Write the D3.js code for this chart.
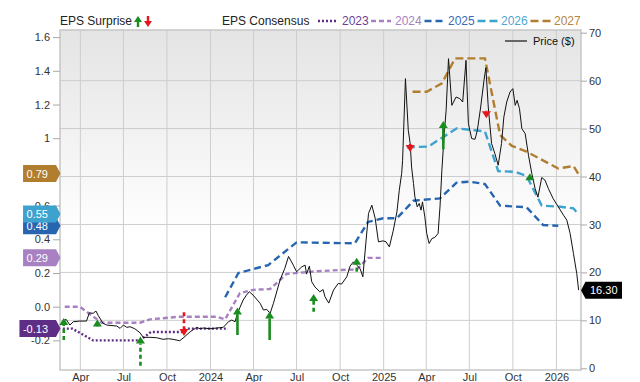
<!DOCTYPE html>
<html><head><meta charset="utf-8">
<script src="https://cdn.jsdelivr.net/npm/d3@7"></script>
<style>body{margin:0;background:#fff}svg{display:block;font-family:"Liberation Sans",Arial,Helvetica,sans-serif}</style>
</head><body><svg id="c" width="640" height="382"></svg>
<script>
// ---------------- DATA ----------------
const priceDates = ["2023-02-21","2023-03-02","2023-03-10","2023-03-17","2023-03-31","2023-04-14","2023-04-20","2023-04-28","2023-05-04","2023-05-09",
"2023-05-19","2023-05-27","2023-06-17","2023-06-24","2023-07-01","2023-07-08","2023-07-15","2023-07-25","2023-08-05","2023-08-12",
"2023-08-26","2023-09-09","2023-09-23","2023-10-04","2023-10-14","2023-10-28","2023-11-06","2023-11-19","2023-12-03","2023-12-10",
"2023-12-17","2023-12-31","2024-01-14","2024-01-28","2024-02-08","2024-02-15","2024-02-22","2024-02-27","2024-03-03","2024-03-10",
"2024-03-17","2024-03-23","2024-03-31","2024-04-15","2024-04-22","2024-04-29","2024-05-06","2024-05-13","2024-05-27","2024-06-06",
"2024-06-14","2024-06-24","2024-07-01","2024-07-12","2024-07-19","2024-07-22","2024-07-28","2024-08-02","2024-08-09","2024-08-19",
"2024-08-26","2024-08-30","2024-09-07","2024-09-17","2024-09-27","2024-10-04","2024-10-15","2024-10-22","2024-10-29","2024-11-05",
"2024-11-12","2024-11-18","2024-11-23","2024-11-30","2024-12-07","2024-12-14","2024-12-21","2024-12-31","2025-01-06","2025-01-13",
"2025-01-21","2025-01-29","2025-02-03","2025-02-08","2025-02-10","2025-02-16","2025-02-22","2025-02-26","2025-03-01","2025-03-05",
"2025-03-08","2025-03-13","2025-03-17","2025-03-21","2025-03-24","2025-03-29","2025-04-02","2025-04-07","2025-04-13","2025-04-19",
"2025-04-26","2025-04-30","2025-05-04","2025-05-09","2025-05-13","2025-05-18","2025-05-25","2025-06-03","2025-06-11","2025-06-17",
"2025-06-24","2025-06-29","2025-07-06","2025-07-13","2025-07-18","2025-07-25","2025-08-01","2025-08-05","2025-08-10","2025-08-17",
"2025-08-24","2025-08-31","2025-09-07","2025-09-12","2025-09-18","2025-09-25","2025-10-01","2025-10-06","2025-10-10","2025-10-15",
"2025-10-20","2025-10-27","2025-11-03","2025-11-10","2025-11-17","2025-11-23","2025-12-01","2025-12-08","2025-12-15","2025-12-25",
"2026-01-05","2026-01-16","2026-01-23","2026-01-30","2026-02-06","2026-02-13","2026-02-17"];
const priceValues = [9.71,10.21,9.02,9.71,9.85,9.85,11.58,11.46,11.94,10.96,
9.38,9.02,8.81,8.33,9.02,8.54,8.67,8.25,7.42,6.46,
6.46,6.38,6.04,6.17,6.04,5.75,6.46,7.63,8.54,8.25,
8.40,8.25,8.40,8.54,9.71,10.06,9.71,11.46,12.63,14.23,
15.27,15.96,15.27,13.54,12.15,12.29,11.46,13.54,18.40,20.83,
23.33,21.52,20.13,21.17,21.52,19.65,21.31,18.04,16.94,15.96,
16.42,14.92,13.60,16.31,17.71,17.56,19.08,21.31,22.21,21.52,
20.83,19.08,24.65,32.29,34.02,31.31,26.38,26.58,26.38,25.33,
28.60,32.63,37.15,40.63,43.40,60.42,49.65,46.88,42.00,38.54,
35.75,33.67,34.38,32.98,34.71,31.58,28.13,26.04,27.08,27.29,
28.13,33.67,41.31,48.96,53.81,64.58,54.85,56.58,56.25,55.54,
64.23,51.04,47.92,47.77,49.65,54.50,60.06,62.71,54.50,46.88,
44.79,42.35,46.88,52.42,55.54,57.63,58.33,54.85,55.90,54.17,
50.00,48.96,44.44,40.63,37.50,35.69,39.79,39.23,37.50,35.42,
33.67,31.94,30.90,28.13,23.96,19.79,16.30];

const cons2023Dates = ["2023-02-23","2023-03-15","2023-04-28","2023-08-05","2023-08-28","2023-11-01","2023-11-12","2024-02-07"];
const cons2023Values = [-0.13,-0.13,-0.20,-0.20,-0.15,-0.15,-0.13,-0.13];
const cons2024Dates = ["2023-02-27","2023-03-31","2023-05-16","2023-08-05","2023-08-26","2023-10-25","2024-01-15","2024-02-01","2024-03-03","2024-03-31","2024-05-06","2024-06-10","2024-08-12","2024-10-15","2024-11-05","2024-11-29","2024-12-31"];
const cons2024Values = [0.0,0.0,-0.095,-0.095,-0.075,-0.06,-0.06,-0.075,0.08,0.10,0.105,0.195,0.21,0.22,0.22,0.29,0.29];
const cons2025Dates = ["2024-02-01","2024-02-29","2024-05-02","2024-07-01","2024-11-01","2024-11-29","2024-12-31","2025-01-29","2025-03-05","2025-04-30","2025-06-04","2025-07-02","2025-08-03","2025-09-04","2025-10-30","2025-12-04","2026-01-05"];
const cons2025Values = [0.056,0.20,0.247,0.382,0.376,0.503,0.525,0.525,0.629,0.643,0.736,0.742,0.728,0.60,0.59,0.485,0.48];
const cons2026Dates = ["2025-02-19","2025-04-05","2025-06-04","2025-07-02","2025-08-03","2025-08-31","2025-10-06","2025-10-30","2025-12-01","2026-01-09","2026-02-06","2026-02-16"];
const cons2026Values = [0.946,0.95,1.058,1.05,1.04,0.805,0.80,0.776,0.60,0.593,0.584,0.55];
const cons2027Dates = ["2025-03-03","2025-04-02","2025-05-04","2025-06-01","2025-08-03","2025-09-04","2025-09-29","2025-10-30","2026-01-05","2026-02-06","2026-02-16"];
const cons2027Values = [1.276,1.276,1.326,1.474,1.474,1.019,0.954,0.92,0.82,0.835,0.79];

const surpriseDates = ["2023-02-25","2023-05-07","2023-08-06","2023-11-06","2024-02-27","2024-05-05","2024-08-06","2024-11-05","2025-02-26","2025-05-07","2025-08-06","2025-11-06"];
const surpriseFrom = [-0.198,-0.12,-0.35,-0.033,-0.168,-0.198,-0.03,0.208,0.966,0.934,1.163,0.768];
const surpriseTo   = [-0.067,-0.076,-0.177,-0.174,-0.005,-0.028,0.075,0.291,0.918,1.102,1.118,0.792];
const surpriseKind = ["dashed","dashed","dashed","dashed","solid","solid","dashed","dashed","dashed","solid","dashed","solid"];

const seriesNames = ["2023","2024","2025","2026","2027"];
const priceTicks = [0,10,20,30,40,50,60,70];
const epsTicks = [-0.2,0.0,0.2,0.4,0.6,0.8,1.0,1.2,1.4,1.6];
const epsTickLabels = ["-0.2","0.0","0.2","0.4","0.6","","1","1.2","1.4","1.6"];
const monthTickDates = ["2023-04-01","2023-07-01","2023-10-01","2024-01-01","2024-04-01","2024-07-01","2024-10-01","2025-01-01","2025-04-01","2025-07-01","2025-10-01","2026-01-01"];
const monthTickLabels = ["Apr","Jul","Oct","2024","Apr","Jul","Oct","2025","Apr","Jul","Oct","2026"];

// ---------------- CHART ----------------
const parse = d3.timeParse("%Y-%m-%d");
const L=60, R=581, T=30, B=370;
const svg = d3.select("#c");
const x = d3.scaleTime().domain([parse("2023-02-17"), parse("2026-02-22")]).range([L, R]);
const yP = d3.scaleLinear().domain([0,70]).range([368.3, 32.7]);
const yE = d3.scaleLinear().domain([-0.2,1.6]).range([340.4, 37.1]);

const colors = {"2023":"#5e2e86","2024":"#a881c2","2025":"#2765b0","2026":"#3ea2cf","2027":"#b17e30"};
const textColors = {"2023":"#6b3f93","2024":"#a782c0","2025":"#3b6db4","2026":"#4fa6d2","2027":"#b58640"};
const dashes = {"2023":"2,2","2024":"5,3","2025":"7,4","2026":"8,4","2027":"8,4"};

const defs = svg.append("defs");
const grad = defs.append("linearGradient").attr("id","bg").attr("x1",0).attr("y1",0).attr("x2",0).attr("y2",1);
grad.append("stop").attr("offset","0%").attr("stop-color","#e4e4e4");
grad.append("stop").attr("offset","60%").attr("stop-color","#ffffff");
grad.append("stop").attr("offset","100%").attr("stop-color","#ffffff");
defs.append("clipPath").attr("id","clip").append("rect").attr("x",L).attr("y",T).attr("width",R-L).attr("height",B-T);

svg.append("rect").attr("x",L).attr("y",T).attr("width",R-L).attr("height",B-T).attr("fill","url(#bg)");

// grid
const mDates = monthTickDates.map(parse);
svg.append("g").selectAll("line").data(mDates).join("line")
  .attr("x1",d=>x(d)).attr("x2",d=>x(d)).attr("y1",T).attr("y2",B)
  .attr("stroke","#cdcdcd").attr("stroke-width",1);
svg.append("g").selectAll("line").data(priceTicks.filter(d=>d>0&&d<70)).join("line")
  .attr("x1",L).attr("x2",R).attr("y1",d=>yP(d)).attr("y2",d=>yP(d))
  .attr("stroke","#cdcdcd").attr("stroke-width",1);

svg.append("rect").attr("x",L).attr("y",T).attr("width",R-L).attr("height",B-T)
  .attr("fill","none").attr("stroke","#c6c6c6").attr("stroke-width",1.5);

// axes
const axR = svg.append("g").attr("transform",`translate(${R},0)`)
  .call(d3.axisRight(yP).tickValues(priceTicks).tickSize(6).tickPadding(2));
const axL = svg.append("g").attr("transform",`translate(${L},0)`)
  .call(d3.axisLeft(yE).tickValues(epsTicks).tickFormat((d,i)=>epsTickLabels[i]).tickSize(7).tickPadding(3));
const axB = svg.append("g").attr("transform",`translate(0,${B})`)
  .call(d3.axisBottom(x).tickValues(mDates).tickFormat((d,i)=>monthTickLabels[i]).tickSize(0).tickPadding(3));
[axR,axL,axB].forEach(a=>{
  a.select(".domain").remove();
  a.selectAll(".tick line").attr("stroke","#a8a8a8");
  a.selectAll("text").attr("fill","#333").attr("font-size",11).attr("font-family",'"Liberation Sans",Arial,sans-serif');
});

// consensus lines
const consData = {
  "2023": cons2023Dates.map((d,i)=>({date:parse(d), v:cons2023Values[i]})),
  "2024": cons2024Dates.map((d,i)=>({date:parse(d), v:cons2024Values[i]})),
  "2025": cons2025Dates.map((d,i)=>({date:parse(d), v:cons2025Values[i]})),
  "2026": cons2026Dates.map((d,i)=>({date:parse(d), v:cons2026Values[i]})),
  "2027": cons2027Dates.map((d,i)=>({date:parse(d), v:cons2027Values[i]}))
};
const eLine = d3.line().x(d=>x(d.date)).y(d=>yE(d.v));
const plot = svg.append("g").attr("clip-path","url(#clip)");
seriesNames.forEach(s=>{
  plot.append("path").datum(consData[s]).attr("d",eLine).attr("fill","none")
    .attr("stroke",colors[s]).attr("stroke-width",2.4).attr("stroke-dasharray",dashes[s]);
});

// price line
const pData = priceDates.map((d,i)=>({date:parse(d), v:priceValues[i]}));
plot.append("path").datum(pData)
  .attr("d", d3.line().x(d=>x(d.date)).y(d=>yP(d.v)))
  .attr("fill","none").attr("stroke","#111").attr("stroke-width",1);

// surprise arrows
const green="#1b8c1f", red="#e6171c";
surpriseDates.forEach((d,i)=>{
  const cx = x(parse(d)), y1 = yE(surpriseFrom[i]), y2 = yE(surpriseTo[i]);
  const up = surpriseTo[i] > surpriseFrom[i];
  const col = up ? green : red;
  const hh = 7, hw = 4.5;
  const base = up ? y2 + hh : y2 - hh;
  const g = svg.append("g");
  if ((up && y1 > base) || (!up && y1 < base)) {
    g.append("line").attr("x1",cx).attr("x2",cx).attr("y1",y1).attr("y2",base)
      .attr("stroke",col).attr("stroke-width",2.6)
      .attr("stroke-dasharray", surpriseKind[i]==="dashed" ? "4,3" : null);
  }
  g.append("path").attr("d",`M${cx-hw},${base}L${cx+hw},${base}L${cx},${y2}Z`).attr("fill",col);
});

// left badges
const lastVals = seriesNames.map(s=>consData[s][consData[s].length-1].v);
seriesNames.forEach((s,i)=>{
  const v = lastVals[i];
  const cy = yE(v);
  const label = v.toFixed(2);
  const g = svg.append("g");
  const t = g.append("text").attr("x",48).attr("y",cy+4).attr("text-anchor","end")
    .attr("font-size",11).attr("fill","#fff").text(label);
  const w = t.node().getComputedTextLength();
  const x0 = 48 - w - 3.5, x1 = 56, tip = 60.5, h = 8.5;
  g.insert("path","text").attr("d",`M${x0},${cy-h}L${x1},${cy-h}L${tip},${cy}L${x1},${cy+h}L${x0},${cy+h}Z`).attr("fill",colors[s]);
});

// right price badge
{
  const v = priceValues[priceValues.length-1];
  const cy = yP(v);
  const g = svg.append("g");
  g.append("path").attr("d",`M${R},${cy}L${R+4.5},${cy-8.5}L622,${cy-8.5}L622,${cy+8.5}L${R+4.5},${cy+8.5}Z`).attr("fill","#000");
  g.append("text").attr("x",590).attr("y",cy+4).attr("font-size",11).attr("fill","#fff").text(v.toFixed(2));
}

// legend (top)
const lg = svg.append("g").attr("font-size",12);
lg.append("text").attr("x",60).attr("y",25).attr("fill","#222").text("EPS Surprise");
function legArrow(cx, up, col){
  const g = lg.append("g");
  const top = 16, bot = 27;
  if (up) {
    g.append("line").attr("x1",cx).attr("x2",cx).attr("y1",top+5).attr("y2",bot).attr("stroke",col).attr("stroke-width",2.4);
    g.append("path").attr("d",`M${cx-4},${top+6}L${cx+4},${top+6}L${cx},${top}Z`).attr("fill",col);
  } else {
    g.append("line").attr("x1",cx).attr("x2",cx).attr("y1",top).attr("y2",bot-5).attr("stroke",col).attr("stroke-width",2.4);
    g.append("path").attr("d",`M${cx-4},${bot-6}L${cx+4},${bot-6}L${cx},${bot}Z`).attr("fill",col);
  }
}
legArrow(138, true, green);
legArrow(148, false, red);
lg.append("text").attr("x",222).attr("y",25).attr("fill","#222").text("EPS Consensus");
const legX = {"2023":[318,342],"2024":[371,395],"2025":[424.5,448],"2026":[477.5,501],"2027":[530.5,554]};
seriesNames.forEach(s=>{
  const [lx, tx] = legX[s];
  lg.append("line").attr("x1",lx).attr("x2",lx+20).attr("y1",21).attr("y2",21)
    .attr("stroke",colors[s]).attr("stroke-width",2.4).attr("stroke-dasharray",dashes[s]);
  lg.append("text").attr("x",tx).attr("y",25).attr("fill",textColors[s]).text(s);
});

// price legend
svg.append("line").attr("x1",505).attr("x2",527).attr("y1",41).attr("y2",41).attr("stroke","#666").attr("stroke-width",2);
svg.append("text").attr("x",533).attr("y",45).attr("font-size",11).attr("fill","#111").text("Price ($)");
</script></body></html>
